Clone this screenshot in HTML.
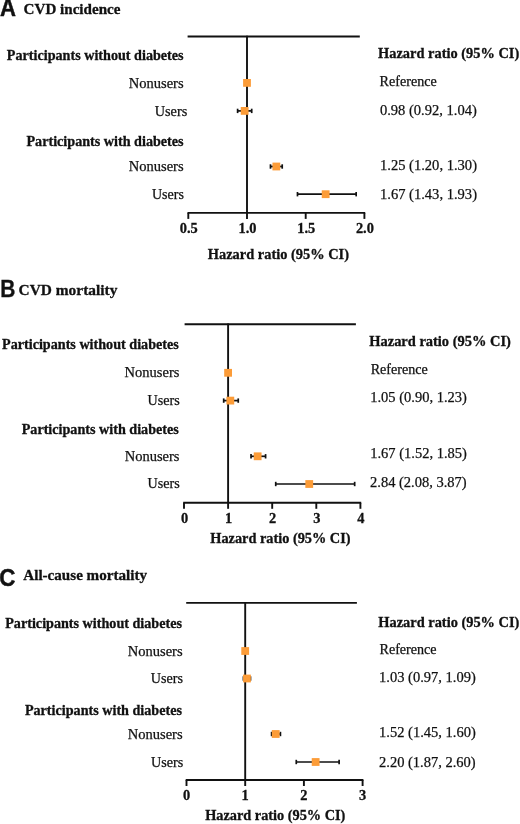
<!DOCTYPE html>
<html><head><meta charset="utf-8"><title>Forest plot</title>
<style>html,body{margin:0;padding:0;background:#fff}svg{display:block}text{fill:#111}</style></head>
<body><svg width="520" height="824" viewBox="0 0 520 824">
<rect width="520" height="824" fill="#fff"/>
<text transform="translate(0.1,15.7) scale(0.96,1)" font-size="23" font-weight="bold" font-family="'Liberation Sans', sans-serif" stroke="#111" stroke-width="0.45">A</text>
<text x="23.6" y="14.2" font-size="15.1" font-weight="bold" text-anchor="start" font-family="'Liberation Serif', serif" stroke="#111" stroke-width="0.3">CVD incidence</text>
<line x1="187.60" y1="36.50" x2="359.80" y2="36.50" stroke="#111" stroke-width="1.9"/>
<line x1="247.00" y1="35.70" x2="247.00" y2="212.90" stroke="#111" stroke-width="1.9"/>
<line x1="187.50" y1="212.90" x2="365.20" y2="212.90" stroke="#111" stroke-width="1.9"/>
<line x1="188.30" y1="212.90" x2="188.30" y2="218.90" stroke="#111" stroke-width="1.9"/>
<text x="188.8" y="233.3" font-size="14.4" font-weight="bold" text-anchor="middle" font-family="'Liberation Serif', serif" stroke="#111" stroke-width="0.3">0.5</text>
<line x1="247.00" y1="212.90" x2="247.00" y2="218.90" stroke="#111" stroke-width="1.9"/>
<text x="247.5" y="233.3" font-size="14.4" font-weight="bold" text-anchor="middle" font-family="'Liberation Serif', serif" stroke="#111" stroke-width="0.3">1.0</text>
<line x1="305.70" y1="212.90" x2="305.70" y2="218.90" stroke="#111" stroke-width="1.9"/>
<text x="306.20000000000005" y="233.3" font-size="14.4" font-weight="bold" text-anchor="middle" font-family="'Liberation Serif', serif" stroke="#111" stroke-width="0.3">1.5</text>
<line x1="364.40" y1="212.90" x2="364.40" y2="218.90" stroke="#111" stroke-width="1.9"/>
<text x="364.90000000000003" y="233.3" font-size="14.4" font-weight="bold" text-anchor="middle" font-family="'Liberation Serif', serif" stroke="#111" stroke-width="0.3">2.0</text>
<text x="278.4" y="258.6" font-size="14.4" font-weight="bold" text-anchor="middle" font-family="'Liberation Serif', serif" stroke="#111" stroke-width="0.3">Hazard ratio (95% CI)</text>
<text x="183.6" y="60" font-size="14.15" font-weight="bold" text-anchor="end" font-family="'Liberation Serif', serif" stroke="#111" stroke-width="0.3">Participants without diabetes</text>
<text x="183.6" y="87.6" font-size="14.5" font-weight="normal" text-anchor="end" font-family="'Liberation Serif', serif" stroke="#111" stroke-width="0.25">Nonusers</text>
<text x="187.3" y="115.5" font-size="14.3" font-weight="normal" text-anchor="end" font-family="'Liberation Serif', serif" stroke="#111" stroke-width="0.25">Users</text>
<text x="183.6" y="145.75" font-size="14.15" font-weight="bold" text-anchor="end" font-family="'Liberation Serif', serif" stroke="#111" stroke-width="0.3">Participants with diabetes</text>
<text x="183.6" y="171.4" font-size="14.5" font-weight="normal" text-anchor="end" font-family="'Liberation Serif', serif" stroke="#111" stroke-width="0.25">Nonusers</text>
<text x="183.9" y="198.8" font-size="14.0" font-weight="normal" text-anchor="end" font-family="'Liberation Serif', serif" stroke="#111" stroke-width="0.25">Users</text>
<text x="378.1" y="58.2" font-size="14.4" font-weight="bold" text-anchor="start" font-family="'Liberation Serif', serif" stroke="#111" stroke-width="0.3">Hazard ratio (95% CI)</text>
<text x="379.6" y="85.6" font-size="14.1" font-weight="normal" text-anchor="start" font-family="'Liberation Serif', serif" stroke="#111" stroke-width="0.25">Reference</text>
<text x="379.9" y="114.9" font-size="14.55" font-weight="normal" text-anchor="start" font-family="'Liberation Serif', serif" stroke="#111" stroke-width="0.25">0.98 (0.92, 1.04)</text>
<text x="380.0" y="170" font-size="14.55" font-weight="normal" text-anchor="start" font-family="'Liberation Serif', serif" stroke="#111" stroke-width="0.25">1.25 (1.20, 1.30)</text>
<text x="380.0" y="198.9" font-size="14.55" font-weight="normal" text-anchor="start" font-family="'Liberation Serif', serif" stroke="#111" stroke-width="0.25">1.67 (1.43, 1.93)</text>
<rect x="243.10" y="79.00" width="7.8" height="7.8" fill="#FC9C38"/>
<line x1="237.61" y1="110.90" x2="251.70" y2="110.90" stroke="#111" stroke-width="1.7"/>
<line x1="237.61" y1="108.70" x2="237.61" y2="113.10" stroke="#111" stroke-width="1.7"/>
<line x1="251.70" y1="108.70" x2="251.70" y2="113.10" stroke="#111" stroke-width="1.7"/>
<rect x="240.75" y="107.00" width="7.8" height="7.8" fill="#FC9C38"/>
<line x1="270.48" y1="166.50" x2="282.22" y2="166.50" stroke="#111" stroke-width="1.7"/>
<line x1="270.48" y1="164.30" x2="270.48" y2="168.70" stroke="#111" stroke-width="1.7"/>
<line x1="282.22" y1="164.30" x2="282.22" y2="168.70" stroke="#111" stroke-width="1.7"/>
<rect x="272.45" y="162.60" width="7.8" height="7.8" fill="#FC9C38"/>
<line x1="297.48" y1="194.20" x2="356.18" y2="194.20" stroke="#111" stroke-width="1.7"/>
<line x1="297.48" y1="192.00" x2="297.48" y2="196.40" stroke="#111" stroke-width="1.7"/>
<line x1="356.18" y1="192.00" x2="356.18" y2="196.40" stroke="#111" stroke-width="1.7"/>
<rect x="321.76" y="190.30" width="7.8" height="7.8" fill="#FC9C38"/>
<text transform="translate(0.2,296.7) scale(0.9,1)" font-size="23.3" font-weight="bold" font-family="'Liberation Sans', sans-serif" stroke="#111" stroke-width="0.35">B</text>
<text x="18.6" y="295" font-size="15.4" font-weight="bold" text-anchor="start" font-family="'Liberation Serif', serif" stroke="#111" stroke-width="0.3">CVD mortality</text>
<line x1="184.60" y1="324.30" x2="355.90" y2="324.30" stroke="#111" stroke-width="1.9"/>
<line x1="228.10" y1="323.50" x2="228.10" y2="502.80" stroke="#111" stroke-width="1.9"/>
<line x1="183.20" y1="502.80" x2="361.20" y2="502.80" stroke="#111" stroke-width="1.9"/>
<line x1="184.00" y1="502.80" x2="184.00" y2="508.80" stroke="#111" stroke-width="1.9"/>
<text x="184.5" y="522.5" font-size="14.4" font-weight="bold" text-anchor="middle" font-family="'Liberation Serif', serif" stroke="#111" stroke-width="0.3">0</text>
<line x1="228.10" y1="502.80" x2="228.10" y2="508.80" stroke="#111" stroke-width="1.9"/>
<text x="228.6" y="522.5" font-size="14.4" font-weight="bold" text-anchor="middle" font-family="'Liberation Serif', serif" stroke="#111" stroke-width="0.3">1</text>
<line x1="272.20" y1="502.80" x2="272.20" y2="508.80" stroke="#111" stroke-width="1.9"/>
<text x="272.7" y="522.5" font-size="14.4" font-weight="bold" text-anchor="middle" font-family="'Liberation Serif', serif" stroke="#111" stroke-width="0.3">2</text>
<line x1="316.30" y1="502.80" x2="316.30" y2="508.80" stroke="#111" stroke-width="1.9"/>
<text x="316.8" y="522.5" font-size="14.4" font-weight="bold" text-anchor="middle" font-family="'Liberation Serif', serif" stroke="#111" stroke-width="0.3">3</text>
<line x1="360.40" y1="502.80" x2="360.40" y2="508.80" stroke="#111" stroke-width="1.9"/>
<text x="360.9" y="522.5" font-size="14.4" font-weight="bold" text-anchor="middle" font-family="'Liberation Serif', serif" stroke="#111" stroke-width="0.3">4</text>
<text x="280.4" y="542.5" font-size="14.3" font-weight="bold" text-anchor="middle" font-family="'Liberation Serif', serif" stroke="#111" stroke-width="0.3">Hazard ratio (95% CI)</text>
<text x="178.8" y="348.8" font-size="14.15" font-weight="bold" text-anchor="end" font-family="'Liberation Serif', serif" stroke="#111" stroke-width="0.3">Participants without diabetes</text>
<text x="179.4" y="376.5" font-size="14.5" font-weight="normal" text-anchor="end" font-family="'Liberation Serif', serif" stroke="#111" stroke-width="0.25">Nonusers</text>
<text x="179.8" y="404.5" font-size="14.15" font-weight="normal" text-anchor="end" font-family="'Liberation Serif', serif" stroke="#111" stroke-width="0.25">Users</text>
<text x="178.8" y="434" font-size="14.15" font-weight="bold" text-anchor="end" font-family="'Liberation Serif', serif" stroke="#111" stroke-width="0.3">Participants with diabetes</text>
<text x="179.5" y="460.7" font-size="14.5" font-weight="normal" text-anchor="end" font-family="'Liberation Serif', serif" stroke="#111" stroke-width="0.25">Nonusers</text>
<text x="179.8" y="488.1" font-size="14.15" font-weight="normal" text-anchor="end" font-family="'Liberation Serif', serif" stroke="#111" stroke-width="0.25">Users</text>
<text x="369.3" y="346" font-size="14.45" font-weight="bold" text-anchor="start" font-family="'Liberation Serif', serif" stroke="#111" stroke-width="0.3">Hazard ratio (95% CI)</text>
<text x="370.7" y="374" font-size="14.1" font-weight="normal" text-anchor="start" font-family="'Liberation Serif', serif" stroke="#111" stroke-width="0.25">Reference</text>
<text x="370.2" y="401.8" font-size="14.5" font-weight="normal" text-anchor="start" font-family="'Liberation Serif', serif" stroke="#111" stroke-width="0.25">1.05 (0.90, 1.23)</text>
<text x="370.2" y="457.8" font-size="14.5" font-weight="normal" text-anchor="start" font-family="'Liberation Serif', serif" stroke="#111" stroke-width="0.25">1.67 (1.52, 1.85)</text>
<text x="370.0" y="487.0" font-size="14.5" font-weight="normal" text-anchor="start" font-family="'Liberation Serif', serif" stroke="#111" stroke-width="0.25">2.84 (2.08, 3.87)</text>
<rect x="224.20" y="368.90" width="7.8" height="7.8" fill="#FC9C38"/>
<line x1="223.69" y1="400.60" x2="238.24" y2="400.60" stroke="#111" stroke-width="1.7"/>
<line x1="223.69" y1="398.40" x2="223.69" y2="402.80" stroke="#111" stroke-width="1.7"/>
<line x1="238.24" y1="398.40" x2="238.24" y2="402.80" stroke="#111" stroke-width="1.7"/>
<rect x="226.41" y="396.70" width="7.8" height="7.8" fill="#FC9C38"/>
<line x1="251.03" y1="456.30" x2="265.59" y2="456.30" stroke="#111" stroke-width="1.7"/>
<line x1="251.03" y1="454.10" x2="251.03" y2="458.50" stroke="#111" stroke-width="1.7"/>
<line x1="265.59" y1="454.10" x2="265.59" y2="458.50" stroke="#111" stroke-width="1.7"/>
<rect x="253.75" y="452.40" width="7.8" height="7.8" fill="#FC9C38"/>
<line x1="275.73" y1="484.00" x2="354.67" y2="484.00" stroke="#111" stroke-width="1.7"/>
<line x1="275.73" y1="481.80" x2="275.73" y2="486.20" stroke="#111" stroke-width="1.7"/>
<line x1="354.67" y1="481.80" x2="354.67" y2="486.20" stroke="#111" stroke-width="1.7"/>
<rect x="305.34" y="480.10" width="7.8" height="7.8" fill="#FC9C38"/>
<text transform="translate(-0.8,585.6) scale(0.92,1)" font-size="24.3" font-weight="bold" font-family="'Liberation Sans', sans-serif" stroke="#111" stroke-width="0.5">C</text>
<text x="23.3" y="580.2" font-size="15.1" font-weight="bold" text-anchor="start" font-family="'Liberation Serif', serif" stroke="#111" stroke-width="0.3">All-cause mortality</text>
<line x1="186.20" y1="602.90" x2="356.90" y2="602.90" stroke="#111" stroke-width="1.9"/>
<line x1="245.20" y1="602.10" x2="245.20" y2="780.00" stroke="#111" stroke-width="1.9"/>
<line x1="185.70" y1="780.00" x2="363.40" y2="780.00" stroke="#111" stroke-width="1.9"/>
<line x1="186.50" y1="780.00" x2="186.50" y2="786.00" stroke="#111" stroke-width="1.9"/>
<text x="186.5" y="800.4" font-size="14.4" font-weight="bold" text-anchor="middle" font-family="'Liberation Serif', serif" stroke="#111" stroke-width="0.3">0</text>
<line x1="245.20" y1="780.00" x2="245.20" y2="786.00" stroke="#111" stroke-width="1.9"/>
<text x="245.2" y="800.4" font-size="14.4" font-weight="bold" text-anchor="middle" font-family="'Liberation Serif', serif" stroke="#111" stroke-width="0.3">1</text>
<line x1="303.90" y1="780.00" x2="303.90" y2="786.00" stroke="#111" stroke-width="1.9"/>
<text x="303.9" y="800.4" font-size="14.4" font-weight="bold" text-anchor="middle" font-family="'Liberation Serif', serif" stroke="#111" stroke-width="0.3">2</text>
<line x1="362.60" y1="780.00" x2="362.60" y2="786.00" stroke="#111" stroke-width="1.9"/>
<text x="362.6" y="800.4" font-size="14.4" font-weight="bold" text-anchor="middle" font-family="'Liberation Serif', serif" stroke="#111" stroke-width="0.3">3</text>
<text x="275.3" y="820" font-size="14.3" font-weight="bold" text-anchor="middle" font-family="'Liberation Serif', serif" stroke="#111" stroke-width="0.3">Hazard ratio (95% CI)</text>
<text x="182.0" y="628" font-size="14.15" font-weight="bold" text-anchor="end" font-family="'Liberation Serif', serif" stroke="#111" stroke-width="0.3">Participants without diabetes</text>
<text x="182.6" y="655.5" font-size="14.5" font-weight="normal" text-anchor="end" font-family="'Liberation Serif', serif" stroke="#111" stroke-width="0.25">Nonusers</text>
<text x="183.0" y="683.1" font-size="14.15" font-weight="normal" text-anchor="end" font-family="'Liberation Serif', serif" stroke="#111" stroke-width="0.25">Users</text>
<text x="182.0" y="715" font-size="14.15" font-weight="bold" text-anchor="end" font-family="'Liberation Serif', serif" stroke="#111" stroke-width="0.3">Participants with diabetes</text>
<text x="182.6" y="739" font-size="14.5" font-weight="normal" text-anchor="end" font-family="'Liberation Serif', serif" stroke="#111" stroke-width="0.25">Nonusers</text>
<text x="183.2" y="766.5" font-size="14.15" font-weight="normal" text-anchor="end" font-family="'Liberation Serif', serif" stroke="#111" stroke-width="0.25">Users</text>
<text x="378.3" y="626.5" font-size="14.4" font-weight="bold" text-anchor="start" font-family="'Liberation Serif', serif" stroke="#111" stroke-width="0.3">Hazard ratio (95% CI)</text>
<text x="379.5" y="654" font-size="14.1" font-weight="normal" text-anchor="start" font-family="'Liberation Serif', serif" stroke="#111" stroke-width="0.25">Reference</text>
<text x="379.1" y="681.5" font-size="14.5" font-weight="normal" text-anchor="start" font-family="'Liberation Serif', serif" stroke="#111" stroke-width="0.25">1.03 (0.97, 1.09)</text>
<text x="379.1" y="736.5" font-size="14.5" font-weight="normal" text-anchor="start" font-family="'Liberation Serif', serif" stroke="#111" stroke-width="0.25">1.52 (1.45, 1.60)</text>
<text x="379.0" y="766.5" font-size="14.5" font-weight="normal" text-anchor="start" font-family="'Liberation Serif', serif" stroke="#111" stroke-width="0.25">2.20 (1.87, 2.60)</text>
<rect x="241.30" y="647.10" width="7.8" height="7.8" fill="#FC9C38"/>
<line x1="243.44" y1="678.50" x2="250.48" y2="678.50" stroke="#111" stroke-width="1.7"/>
<line x1="243.44" y1="676.30" x2="243.44" y2="680.70" stroke="#111" stroke-width="1.7"/>
<line x1="250.48" y1="676.30" x2="250.48" y2="680.70" stroke="#111" stroke-width="1.7"/>
<rect x="243.06" y="674.60" width="7.8" height="7.8" fill="#FC9C38"/>
<line x1="271.62" y1="734.00" x2="280.42" y2="734.00" stroke="#111" stroke-width="1.7"/>
<line x1="271.62" y1="731.80" x2="271.62" y2="736.20" stroke="#111" stroke-width="1.7"/>
<line x1="280.42" y1="731.80" x2="280.42" y2="736.20" stroke="#111" stroke-width="1.7"/>
<rect x="271.82" y="730.10" width="7.8" height="7.8" fill="#FC9C38"/>
<line x1="296.27" y1="762.00" x2="339.12" y2="762.00" stroke="#111" stroke-width="1.7"/>
<line x1="296.27" y1="759.80" x2="296.27" y2="764.20" stroke="#111" stroke-width="1.7"/>
<line x1="339.12" y1="759.80" x2="339.12" y2="764.20" stroke="#111" stroke-width="1.7"/>
<rect x="311.74" y="758.10" width="7.8" height="7.8" fill="#FC9C38"/>
</svg></body></html>
